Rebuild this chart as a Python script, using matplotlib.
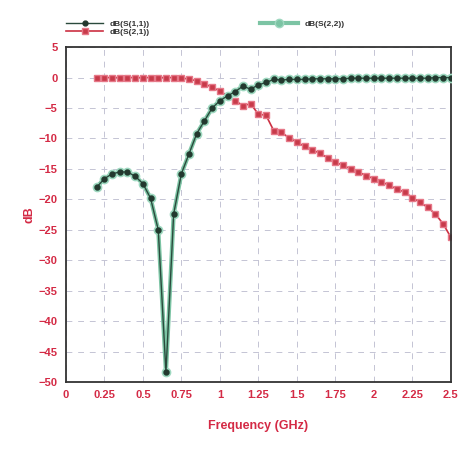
import numpy as np
import matplotlib
matplotlib.use("Agg")
import matplotlib.pyplot as plt

freq_ghz = [0.20, 0.25, 0.30, 0.35, 0.40, 0.45, 0.50, 0.55, 0.60, 0.65,
            0.70, 0.75, 0.80, 0.85, 0.90, 0.95, 1.00, 1.05, 1.10, 1.15,
            1.20, 1.25, 1.30, 1.35, 1.40, 1.45, 1.50, 1.55, 1.60, 1.65,
            1.70, 1.75, 1.80, 1.85, 1.90, 1.95, 2.00, 2.05, 2.10, 2.15,
            2.20, 2.25, 2.30, 2.35, 2.40, 2.45, 2.50]

s11_db = [-18.0, -16.6, -15.8, -15.5, -15.5, -16.2, -17.4, -19.8, -25.0, -48.4,
          -22.4, -15.8, -12.5, -9.2, -7.1, -5.0, -3.8, -3.0, -2.3, -1.4,
          -1.9, -1.2, -0.8, -0.3, -0.4, -0.3, -0.3, -0.3, -0.2, -0.2,
          -0.2, -0.2, -0.2, -0.1, -0.1, -0.1, -0.1, -0.1, -0.1, -0.1,
          -0.1, -0.1, -0.1, -0.1, 0.0, 0.0, 0.0]

s22_db = list(s11_db)

s21_db = [0.0, 0.0, 0.0, 0.0, 0.0, 0.0, 0.0, 0.0, 0.0, 0.0,
          0.0, 0.0, -0.3, -0.5, -1.0, -1.6, -2.2, -3.0, -3.8, -4.6,
          -4.3, -6.0, -6.2, -8.7, -9.0, -9.9, -10.6, -11.3, -11.9, -12.4,
          -13.2, -13.9, -14.4, -15.0, -15.5, -16.1, -16.6, -17.1, -17.7, -18.3,
          -18.8, -19.7, -20.5, -21.3, -22.4, -24.0, -26.2]

x_ticks = [0, 0.25, 0.5, 0.75, 1, 1.25, 1.5, 1.75, 2, 2.25, 2.5]
x_tick_labels = ["0", "0.25", "0.5", "0.75", "1", "1.25", "1.5", "1.75", "2", "2.25", "2.5"]
y_ticks = [5, 0, -5, -10, -15, -20, -25, -30, -35, -40, -45, -50]

red = "#d42a45"
plt.rcParams['font.family'] = ['Liberation Sans', 'DejaVu Sans']

fig = plt.figure(figsize=(4.74, 4.49), dpi=100)
ax = fig.add_axes([0.139, 0.149, 0.812, 0.746])

l22, = ax.plot(freq_ghz, s22_db, color="#7cc4a4", lw=3.0, marker="o", ms=6,
               mfc="#7cc4a4", mec="#9fd8c0", zorder=3)
l11, = ax.plot(freq_ghz, s11_db, color="#2a4a3c", lw=1.0, marker="o", ms=3.5,
               mfc="#23382e", mec="#23382e", zorder=4)
l21, = ax.plot(freq_ghz, s21_db, color="#cc3042", lw=1.2, marker="s", ms=4.5,
               mfc="#c83a4a", mec="#e67888", zorder=2)

ax.set_xlim(0, 2.5)
ax.set_ylim(-50, 5)
ax.set_xticks(x_ticks)
ax.set_xticklabels(x_tick_labels)
ax.set_yticks(y_ticks)
ax.tick_params(axis="both", length=0, labelcolor=red, labelsize=8, pad=6)
for lab in ax.get_xticklabels() + ax.get_yticklabels():
    lab.set_fontweight("bold")

ax.grid(True, color="#c4c4d4", linestyle=(0, (6, 6)), lw=0.7)
for sp in ax.spines.values():
    sp.set_color("#333333")
    sp.set_linewidth(1.3)

ax.set_xlabel("Frequency (GHz)", color=red, fontsize=9, fontweight="bold", labelpad=14)
ax.set_ylabel("dB", color=red, fontsize=9, fontweight="bold", labelpad=2)

leg1 = fig.legend([l11, l21], ["dB(S(1,1))", "dB(S(2,1))"], loc="upper left",
                  bbox_to_anchor=(0.13, 0.965), frameon=False, fontsize=6,
                  handlelength=4.5, labelspacing=0.1, borderpad=0, handletextpad=0.8)
for t in leg1.get_texts():
    t.set_fontweight("bold")
    t.set_color("#333333")
leg2 = fig.legend([l22], ["dB(S(2,2))"], loc="upper left",
                  bbox_to_anchor=(0.54, 0.965), frameon=False, fontsize=6,
                  handlelength=4.5, borderpad=0, handletextpad=0.8)
for t in leg2.get_texts():
    t.set_fontweight("bold")
    t.set_color("#333333")

fig.savefig("out.png", dpi=100)
